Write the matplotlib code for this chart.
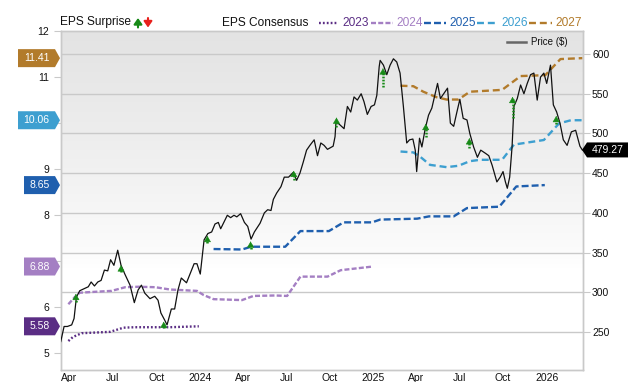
import numpy as np
import pandas as pd
import matplotlib
matplotlib.use('Agg')
import matplotlib.pyplot as plt
import matplotlib.dates as mdates
from matplotlib.patches import Polygon, FancyArrowPatch
from matplotlib.lines import Line2D
from matplotlib.transforms import IdentityTransform
from matplotlib.colors import LinearSegmentedColormap

plt.rcParams['font.family'] = ['Liberation Sans', 'DejaVu Sans']
plt.rcParams['lines.scale_dashes'] = False

# ---------------- data ----------------
price_dates = [
    '2023-03-14', '2023-03-21', '2023-03-28', '2023-04-06', '2023-04-11', '2023-04-16', '2023-04-23',
    '2023-05-04', '2023-05-11', '2023-05-17', '2023-05-24', '2023-05-31', '2023-06-07', '2023-06-14',
    '2023-06-21', '2023-06-27', '2023-07-04', '2023-07-12', '2023-07-19', '2023-07-27', '2023-08-07',
    '2023-08-16', '2023-08-24', '2023-08-31', '2023-09-07', '2023-09-18', '2023-09-28', '2023-10-05',
    '2023-10-11', '2023-10-19', '2023-10-24', '2023-11-02', '2023-11-09', '2023-11-16', '2023-11-23',
    '2023-12-04', '2023-12-12', '2023-12-20', '2023-12-26', '2024-01-02', '2024-01-10', '2024-01-18',
    '2024-01-26', '2024-02-02', '2024-02-09', '2024-02-14', '2024-02-23', '2024-02-28', '2024-03-06',
    '2024-03-13', '2024-03-19', '2024-03-27', '2024-04-04', '2024-04-11', '2024-04-18', '2024-04-25',
    '2024-05-07', '2024-05-16', '2024-05-23', '2024-05-30', '2024-06-04', '2024-06-11', '2024-06-20',
    '2024-06-27', '2024-07-06', '2024-07-16', '2024-07-23', '2024-07-30', '2024-08-06', '2024-08-13',
    '2024-08-20', '2024-08-29', '2024-09-05', '2024-09-12', '2024-09-19', '2024-09-26', '2024-10-08',
    '2024-10-12', '2024-10-14', '2024-10-22', '2024-10-31', '2024-11-07', '2024-11-14', '2024-11-21',
    '2024-11-28', '2024-12-06', '2024-12-12', '2024-12-19', '2024-12-27', '2025-01-03', '2025-01-08',
    '2025-01-13', '2025-01-15', '2025-01-22', '2025-01-29', '2025-02-05', '2025-02-12', '2025-02-19',
    '2025-02-26', '2025-03-05', '2025-03-12', '2025-03-18', '2025-03-25', '2025-03-30', '2025-04-02',
    '2025-04-08', '2025-04-13', '2025-04-20', '2025-04-27', '2025-05-04', '2025-05-11', '2025-05-16',
    '2025-05-22', '2025-05-29', '2025-06-06', '2025-06-12', '2025-06-19', '2025-06-25', '2025-07-02',
    '2025-07-09', '2025-07-17', '2025-07-23', '2025-07-31', '2025-08-08', '2025-08-15', '2025-08-25',
    '2025-09-01', '2025-09-08', '2025-09-18', '2025-09-25', '2025-10-01', '2025-10-06', '2025-10-10',
    '2025-10-15', '2025-10-20', '2025-10-24', '2025-10-31', '2025-11-07', '2025-11-14', '2025-11-21',
    '2025-11-28', '2025-12-05', '2025-12-12', '2025-12-19', '2025-12-26', '2026-01-01', '2026-01-09',
    '2026-01-15', '2026-01-22', '2026-01-29', '2026-02-05', '2026-02-13', '2026-02-22', '2026-03-03',
    '2026-03-12', '2026-03-17']
price_values = [
    238, 257, 257, 259, 267, 294, 302,
    305, 307, 313, 308, 313, 315, 328,
    327, 341, 334, 353, 334, 323, 309,
    287, 303, 309, 299, 292, 295, 290,
    274, 265, 259, 279, 279, 303, 318,
    312, 324, 336, 336, 323, 366, 374,
    376, 386, 388, 380, 391, 397, 394,
    397, 395, 399, 388, 383, 367, 376,
    387, 400, 404, 403, 417, 425, 433,
    445, 445, 451, 441, 450, 464, 479,
    485, 492, 472, 488, 485, 480, 484,
    496, 515, 511, 506, 534, 527, 546,
    542, 550, 540, 524, 534, 536, 548,
    584, 592, 586, 574, 586, 594, 590,
    576, 534, 488, 492, 493, 479, 452,
    494, 483, 506, 523, 532, 550, 563,
    544, 550, 557, 513, 509, 525, 543,
    519, 517, 500, 483, 470, 479, 475,
    472, 460, 439, 445, 452, 439, 431,
    445, 483, 534, 544, 561, 550, 563,
    574, 576, 542, 571, 576, 563, 586,
    536, 527, 513, 492, 485, 502, 504,
    484, 479.27]

eps2023_dates = ['2023-03-30', '2023-04-09', '2023-04-27', '2023-05-18', '2023-06-26', '2023-07-24',
                 '2023-08-17', '2023-10-30', '2023-12-30']
eps2023_values = [5.26, 5.35, 5.43, 5.44, 5.46, 5.55, 5.56, 5.56, 5.58]

eps2024_dates = ['2023-03-30', '2023-04-13', '2023-04-23', '2023-05-25', '2023-06-29', '2023-07-28',
                 '2023-08-25', '2023-09-29', '2023-10-30', '2023-12-26', '2024-01-09', '2024-01-30',
                 '2024-03-30', '2024-04-23', '2024-06-08', '2024-07-03', '2024-07-31', '2024-09-26',
                 '2024-10-24', '2024-12-31']
eps2024_values = [6.06, 6.22, 6.31, 6.33, 6.35, 6.43, 6.44, 6.43, 6.38, 6.35, 6.26, 6.17,
                  6.15, 6.24, 6.25, 6.24, 6.66, 6.66, 6.80, 6.88]

eps2025_dates = ['2024-01-30', '2024-03-30', '2024-04-18', '2024-06-29', '2024-07-31', '2024-09-29',
                 '2024-10-30', '2024-12-29', '2025-01-15', '2025-04-03', '2025-04-28', '2025-06-19',
                 '2025-07-17', '2025-09-23', '2025-10-29', '2025-12-28']
eps2025_values = [7.26, 7.25, 7.31, 7.31, 7.65, 7.65, 7.84, 7.84, 7.90, 7.92, 7.97, 7.97,
                  8.15, 8.18, 8.62, 8.65]

eps2026_dates = ['2025-02-27', '2025-03-26', '2025-04-09', '2025-04-30', '2025-06-04', '2025-06-29',
                 '2025-07-23', '2025-08-14', '2025-09-29', '2025-10-24', '2025-12-26', '2026-01-27',
                 '2026-02-21', '2026-03-17']
eps2026_values = [9.38, 9.36, 9.27, 9.09, 9.04, 9.07, 9.17, 9.20, 9.20, 9.53, 9.63, 9.99,
                  10.06, 10.06]

eps2027_dates = ['2025-02-27', '2025-03-26', '2025-04-16', '2025-05-14', '2025-06-04', '2025-06-29',
                 '2025-07-23', '2025-09-29', '2025-11-07', '2025-12-29', '2026-01-30', '2026-03-17']
eps2027_values = [10.81, 10.80, 10.68, 10.56, 10.51, 10.51, 10.68, 10.72, 11.02, 11.04, 11.39, 11.41]

surprise_dates = ['2023-04-15', '2023-07-19', '2023-10-17', '2024-01-17', '2024-04-17', '2024-07-17',
                  '2024-10-15', '2025-01-21', '2025-04-21', '2025-07-22', '2025-10-21', '2026-01-21']
surprise_base = [288, 325, 255, 362, 355, 442, 508, 558, 495, 482, 520, 512]
surprise_tip = [298, 334, 263, 371, 364, 453, 520, 582, 512, 494, 546, 522]

series_names = ['2023', '2024', '2025', '2026', '2027']
series_colors = ['#5a2d84', '#a47fc3', '#1f5fae', '#3d9fd0', '#b27b2b']
last_labels = ['5.58', '6.88', '8.65', '10.06', '11.41']
last_values = [5.58, 6.88, 8.65, 10.06, 11.41]
price_last_label = '479.27'

xtick_dates = ['2023-04-01', '2023-07-01', '2023-10-01', '2024-01-01', '2024-04-01', '2024-07-01',
               '2024-10-01', '2025-01-01', '2025-04-01', '2025-07-01', '2025-10-01', '2026-01-01']
xtick_labels = ['Apr', 'Jul', 'Oct', '2024', 'Apr', 'Jul', 'Oct', '2025', 'Apr', 'Jul', 'Oct', '2026']
eps_ticks = [5, 6, 7, 8, 9, 10, 11, 12]
eps_tick_labels = ['5', '6', '', '8', '9', '', '11', '12']   # 7 and 10 sit under the value tags
price_ticks = [250, 300, 350, 400, 450, 500, 550, 600]

# ---------------- figure ----------------
W, H = 640, 382
fig = plt.figure(figsize=(W / 100, H / 100), dpi=100)
L, R, T, B = 61, 583, 31, 370
ax = fig.add_axes([L / W, 1 - B / H, (R - L) / W, (B - T) / H])
ax2 = ax.twinx()
ax.set_zorder(2)
ax2.set_zorder(1)
ax.patch.set_visible(False)

green = '#178a17'
grid_c = '#c9c9c9'

# gradient background on ax2 (white at bottom, grey at top)
t = np.linspace(0, 1, 256).reshape(-1, 1)
grad = np.clip((t - 0.3) / 0.7, 0, 1) ** 0.8
cmap = LinearSegmentedColormap.from_list('bg', ['#ffffff', '#e3e3e3'])
ax2.imshow(grad, aspect='auto', cmap=cmap, vmin=0, vmax=1, extent=[0, 1, 0, 1],
           transform=ax2.transAxes, origin='lower', zorder=0, interpolation='bilinear')

xl = (mdates.date2num(pd.Timestamp('2023-03-14 12:00')), mdates.date2num(pd.Timestamp('2026-03-18 12:00')))
ax.set_xlim(*xl)
ax2.set_xlim(*xl)
ax.set_ylim(4.63, 12.0)
ax2.set_ylim(202.2, 629.0)

ax2.set_yticks(price_ticks)
ax2.yaxis.grid(True, color=grid_c, lw=1.0)
xt = [mdates.date2num(pd.Timestamp(d)) for d in xtick_dates]
ax2.set_xticks(xt)
ax2.xaxis.grid(True, color=grid_c, lw=1.0)
ax2.set_axisbelow(True)
ax2.tick_params(axis='x', labelbottom=False, length=0)
ax2.tick_params(axis='y', length=5, color=grid_c, pad=1.5, labelsize=7.5, labelcolor='#111111')

ax.set_xticks(xt)
ax.set_xticklabels(xtick_labels)
ax.tick_params(axis='x', length=0, pad=2.5, labelsize=7.5, labelcolor='#111111')
ax.set_yticks(eps_ticks)
ax.set_yticklabels(eps_tick_labels)
ax.tick_params(axis='y', length=5, color=grid_c, pad=3.5, labelsize=7.5, labelcolor='#111111')

for a in (ax, ax2):
    for s in a.spines.values():
        s.set_color(grid_c)
        s.set_linewidth(1.0)

# EPS consensus lines
styles = [(0, (1.3, 1.5)), (0, (3.6, 1.6)), (0, (5.0, 2.2)), (0, (5.0, 2.8)), (0, (5.0, 2.8))]
all_dates = [eps2023_dates, eps2024_dates, eps2025_dates, eps2026_dates, eps2027_dates]
all_vals = [eps2023_values, eps2024_values, eps2025_values, eps2026_values, eps2027_values]
for dts, vals, c, ls in zip(all_dates, all_vals, series_colors, styles):
    ax.plot(pd.to_datetime(dts), vals, color=c, lw=1.7, ls=ls, zorder=3)

# price line (right axis scale)
pdx = [mdates.date2num(pd.Timestamp(d)) for d in price_dates]
ax.plot(pdx, price_values, color='#111111', lw=0.9, transform=ax2.transData, zorder=4)

# surprise arrows
for d, b, tp in zip(surprise_dates, surprise_base, surprise_tip):
    dn = mdates.date2num(pd.Timestamp(d))
    ax.plot([dn, dn], [b, tp - 3], color=green, lw=1.8, ls=(0, (1.2, 1.0)),
            transform=ax2.transData, zorder=5)
    ax.annotate('', xy=(dn, tp), xytext=(dn, tp - 1), xycoords=ax2.transData, textcoords=ax2.transData,
                arrowprops=dict(arrowstyle='-|>,head_length=0.55,head_width=0.32', color=green,
                                lw=0.4, shrinkA=0, shrinkB=0, mutation_scale=7), zorder=6)

# ---------------- value tags ----------------
for lab, val, c in zip(last_labels, last_values, series_colors):
    yd = ax.transData.transform((xl[0], val))[1]
    left = 60 - (12 + 6 * len(lab))
    h = 9
    poly = Polygon([(left, yd - h), (55, yd - h), (60, yd), (55, yd + h), (left, yd + h)],
                   closed=True, facecolor=c, edgecolor='none', transform=IdentityTransform(), zorder=10)
    fig.add_artist(poly)
    fig.text((left + 55) / 2, yd, lab, color='white', fontsize=7.5, ha='center', va='center',
             transform=IdentityTransform(), zorder=11)

yd = ax2.transData.transform((xl[1], price_values[-1]))[1]
h = 7.5
poly = Polygon([(582, yd), (587, yd - h), (628, yd - h), (628, yd + h), (587, yd + h)], closed=True,
               facecolor='black', edgecolor='none', transform=IdentityTransform(), zorder=10)
fig.add_artist(poly)
fig.text(607.5, yd, price_last_label, color='white', fontsize=7.5, ha='center', va='center',
         transform=IdentityTransform(), zorder=11)

# ---------------- top legend ----------------
def fx(x):
    return x / W

def fy(y):
    return 1 - y / H

ly = 22.5
fig.text(fx(60), fy(ly), 'EPS Surprise', fontsize=8.6, ha='left', va='center', color='#111111')
fig.add_artist(FancyArrowPatch((fx(138), fy(27.5)), (fx(138), fy(18)),
               transform=fig.transFigure, arrowstyle='-|>,head_length=0.5,head_width=0.35',
               mutation_scale=7, color=green, lw=1.5, shrinkA=0, shrinkB=0))
fig.add_artist(FancyArrowPatch((fx(148), fy(18)), (fx(148), fy(27.5)),
               transform=fig.transFigure, arrowstyle='-|>,head_length=0.5,head_width=0.35',
               mutation_scale=7, color='#e8201c', lw=1.5, shrinkA=0, shrinkB=0))
fig.text(fx(221.5), fy(ly), 'EPS Consensus', fontsize=8.6, ha='left', va='center', color='#111111')
leg_line_x = [(319, 338), (371, 393), (424, 446), (477, 497), (529, 552)]
leg_text_x = [342, 396, 449, 501, 555]
for (x0, x1), tx, name, c, ls in zip(leg_line_x, leg_text_x, series_names, series_colors, styles):
    fig.add_artist(Line2D([fx(x0), fx(x1)], [fy(ly), fy(ly)], transform=fig.transFigure,
                          color=c, lw=1.7, ls=ls))
    fig.text(fx(tx), fy(ly), name, fontsize=8.6, ha='left', va='center', color=c)

fig.add_artist(Line2D([fx(507), fx(526)], [fy(42), fy(42)], transform=fig.transFigure,
                      color='#666666', lw=1.8, zorder=12))
fig.text(fx(531), fy(42), 'Price ($)', fontsize=7, ha='left', va='center', color='#111111', zorder=12)

fig.savefig('out.png', dpi=100)
